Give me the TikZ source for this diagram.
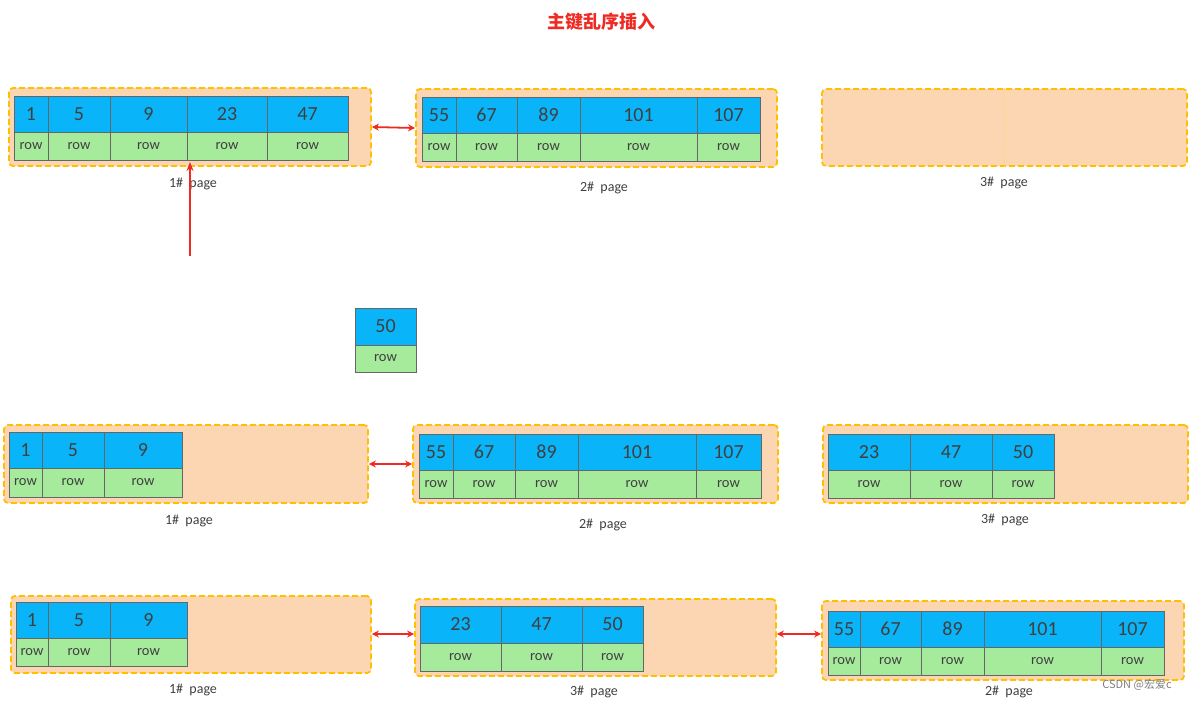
\documentclass[tikz,border=0pt]{standalone}
\usepackage{fontspec}
\setmainfont{Carlito}
\newfontfamily\cjk{Noto Sans CJK SC}
\definecolor{kblue}{HTML}{0AB4F8}
\definecolor{kgreen}{HTML}{A6EA9C}
\definecolor{kpage}{HTML}{FCD6B2}
\definecolor{kdash}{HTML}{FFC000}
\definecolor{ktext}{HTML}{404040}
\definecolor{kred}{HTML}{EE2A22}
\tikzset{
  pagebox/.style={draw=kdash,fill=kpage,dash pattern=on 6pt off 3pt,line width=1.8pt,rounded corners=4pt,inner sep=0},
  lbl/.style={font=\fontsize{14}{16}\selectfont,text=ktext},
  dbl/.style={kred,line width=1.8pt,{Stealth[length=7pt,width=7pt]}-{Stealth[length=7pt,width=7pt]}},
}
\usetikzlibrary{arrows.meta}
% \kcell{x1}{x2}{ytop}{ymid}{ybot}{value}
\newcommand\kcell[6]{%
  \filldraw[fill=kblue,draw=ktext!80,line width=0.7pt] (#1,#3) rectangle (#2,#4);
  \filldraw[fill=kgreen,draw=ktext!80,line width=0.7pt] (#1,#4) rectangle (#2,#5);
  \node[text=ktext,font=\fontsize{20}{22}\selectfont] at ({(#1+#2)/2},{(#3+#4)/2}) {#6};
  \node[text=ktext,font=\fontsize{14.5}{16}\selectfont] at ({(#1+#2)/2},{(#4+#5)/2}) {row};
}
\begin{document}
\begin{tikzpicture}[x=1pt,y=-1pt]
\useasboundingbox[fill=white] (0,0) rectangle (1192,701);
\node[text=kred,font=\cjk\fontsize{18}{20}\selectfont\bfseries] (title) at (601,22) {主键乱序插入};
% ---- row 1
\node[pagebox,minimum width=362,minimum height=78] (a1) at (190,127) {};
\node[pagebox,minimum width=361,minimum height=78] (a2) at (596.5,128) {};
\node[pagebox,minimum width=365,minimum height=77] (a3) at (1004.5,127.5) {};
\draw[kdash!60,dashed,line width=0.5pt] (a3.north) -- (a3.south);
\kcell{14}{48}{96}{132}{160}{1}\kcell{48}{110}{96}{132}{160}{5}\kcell{110}{187}{96}{132}{160}{9}
\kcell{187}{267}{96}{132}{160}{23}\kcell{267}{348}{96}{132}{160}{47}
\kcell{422}{456}{97}{133}{161}{55}\kcell{456}{517}{97}{133}{161}{67}\kcell{517}{580}{97}{133}{161}{89}
\kcell{580}{697}{97}{133}{161}{101}\kcell{697}{760}{97}{133}{161}{107}
\node[lbl] (l11) at (193,184) {1\#\ \ page};
\node[lbl] (l12) at (604,188) {2\#\ \ page};
\node[lbl] (l13) at (1004,183) {3\#\ \ page};
\draw[dbl] (a1.east) -- (a2.west);
\coordinate (arrS) at (190,256);
\coordinate (arrE) at (190,162);
\draw[kred,line width=1.8pt,-{Stealth[length=9pt,width=7pt]}] (arrS) -- (arrE);
% ---- new record
\kcell{355}{416}{308}{345}{372}{50}
% ---- row 2
\node[pagebox,minimum width=364,minimum height=78] (b1) at (186,464) {};
\node[pagebox,minimum width=365,minimum height=78] (b2) at (595.5,464) {};
\node[pagebox,minimum width=365,minimum height=78] (b3) at (1005.5,464) {};
\kcell{9}{42}{432}{468}{497}{1}\kcell{42}{104}{432}{468}{497}{5}\kcell{104}{182}{432}{468}{497}{9}
\kcell{419}{453}{434}{470}{498}{55}\kcell{453}{515}{434}{470}{498}{67}\kcell{515}{578}{434}{470}{498}{89}
\kcell{578}{696}{434}{470}{498}{101}\kcell{696}{761}{434}{470}{498}{107}
\kcell{828}{910}{434}{470}{498}{23}\kcell{910}{992}{434}{470}{498}{47}\kcell{992}{1054}{434}{470}{498}{50}
\node[lbl] (l21) at (189,521) {1\#\ \ page};
\node[lbl] (l22) at (603,525) {2\#\ \ page};
\node[lbl] (l23) at (1005,520) {3\#\ \ page};
\draw[dbl] (b1.east) -- (b2.west);
% ---- row 3
\node[pagebox,minimum width=360,minimum height=77] (c1) at (191,634.5) {};
\node[pagebox,minimum width=361,minimum height=77] (c2) at (595.5,637.5) {};
\node[pagebox,minimum width=362,minimum height=79] (c3) at (1003,640.5) {};
\kcell{16}{48}{602}{638}{666}{1}\kcell{48}{110}{602}{638}{666}{5}\kcell{110}{187}{602}{638}{666}{9}
\kcell{420}{501}{606}{643}{671}{23}\kcell{501}{582}{606}{643}{671}{47}\kcell{582}{643}{606}{643}{671}{50}
\kcell{828}{860}{611}{647}{675}{55}\kcell{860}{921}{611}{647}{675}{67}\kcell{921}{984}{611}{647}{675}{89}
\kcell{984}{1101}{611}{647}{675}{101}\kcell{1101}{1164}{611}{647}{675}{107}
\node[lbl] (l31) at (193,690) {1\#\ \ page};
\node[lbl] (l32) at (594,692) {3\#\ \ page};
\node[lbl,inner sep=1pt] (l33) at (1009,692) {2\#\ \ page};
\draw[dbl] (c1.east |- 0,634) -- (c2.west |- 0,634);
\draw[dbl] (c2.east |- 0,634) -- (c3.west |- 0,634);
\node[text=gray,font=\cjk\fontsize{11}{13}\selectfont] (wm) at (1137,685) {CSDN @宏爱c};
\useasboundingbox (0,0) rectangle (1192,701);
\end{tikzpicture}
\end{document}
